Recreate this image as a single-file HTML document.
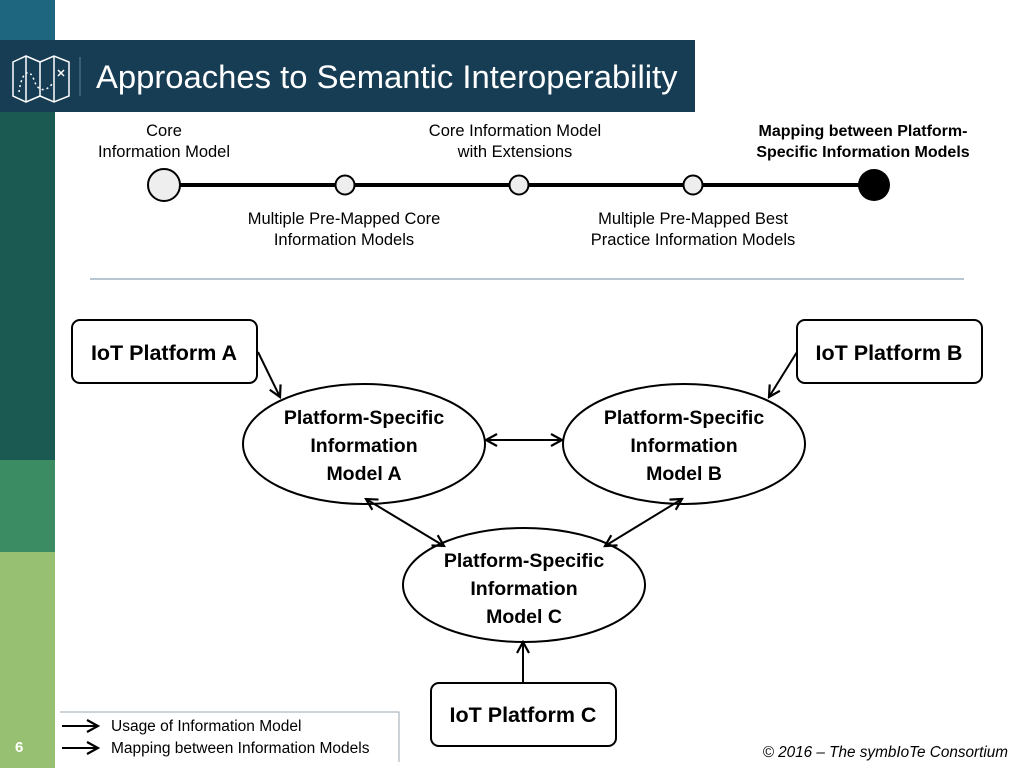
<!DOCTYPE html>
<html><head><style>
body{margin:0;width:1024px;height:768px;overflow:hidden;background:#fff;font-family:"Liberation Sans",sans-serif}
</style></head><body>
<svg width="1024" height="768" xmlns="http://www.w3.org/2000/svg" style="position:absolute;left:0;top:0" font-family="Liberation Sans, sans-serif">
<defs>
<marker id="a" markerWidth="14" markerHeight="14" refX="12" refY="7" orient="auto" markerUnits="userSpaceOnUse"><path d="M1,1 L12,7 L1,13" fill="none" stroke="#000" stroke-width="2.2"/></marker>
<marker id="b" markerWidth="14" markerHeight="14" refX="12" refY="7" orient="auto-start-reverse" markerUnits="userSpaceOnUse"><path d="M1,1 L12,7 L1,13" fill="none" stroke="#000" stroke-width="2.2"/></marker>
</defs>
<rect x="0" y="0" width="55" height="40" fill="#1e6580"/>
<rect x="0" y="112" width="55" height="348" fill="#1b5a52"/>
<rect x="0" y="460" width="55" height="92" fill="#3b8c62"/>
<rect x="0" y="552" width="55" height="216" fill="#97c072"/>
<rect x="0" y="40" width="695" height="72" fill="#173d55"/>
<g fill="none" stroke="#fff" stroke-width="1.5">
<path d="M13,62 L26,56 L40,62 L54,56 L69,62 L69,96 L54,102 L40,96 L26,102 L13,96 Z"/>
<line x1="26" y1="56" x2="26" y2="102"/><line x1="40" y1="62" x2="40" y2="96"/><line x1="54" y1="56" x2="54" y2="102"/>
<path d="M19,92 C22,70 30,68 34,80 C38,92 46,92 52,84" stroke-dasharray="2,3"/>
<path d="M58,70 l6,6 M64,70 l-6,6"/>
</g>
<line x1="80" y1="57" x2="80" y2="96" stroke="#5d7f93" stroke-width="1"/>
<text x="96" y="88" font-size="32.8" fill="#fff">Approaches to Semantic Interoperability</text>
<g font-size="16.5" text-anchor="middle" fill="#000">
<text x="164" y="136">Core</text><text x="164" y="157">Information Model</text>
<text x="515" y="136">Core Information Model</text><text x="515" y="157">with Extensions</text>
<text x="863" y="136" font-weight="bold" font-size="16">Mapping between Platform-</text><text x="863" y="157" font-weight="bold" font-size="16">Specific Information Models</text>
<text x="344" y="224">Multiple Pre-Mapped Core</text><text x="344" y="245">Information Models</text>
<text x="693" y="224">Multiple Pre-Mapped Best</text><text x="693" y="245">Practice Information Models</text>
</g>
<line x1="164" y1="185" x2="874" y2="185" stroke="#000" stroke-width="4"/>
<circle cx="164" cy="185" r="16" fill="#eee" stroke="#000" stroke-width="2"/>
<circle cx="345" cy="185" r="9.5" fill="#eee" stroke="#000" stroke-width="2"/>
<circle cx="519" cy="185" r="9.5" fill="#eee" stroke="#000" stroke-width="2"/>
<circle cx="693" cy="185" r="9.5" fill="#eee" stroke="#000" stroke-width="2"/>
<circle cx="874" cy="185" r="16" fill="#000"/>
<line x1="90" y1="279" x2="964" y2="279" stroke="#9fb3c0" stroke-width="1.5"/>
<g fill="#fff" stroke="#000" stroke-width="2">
<rect x="72" y="320" width="185" height="63" rx="8"/>
<rect x="797" y="320" width="185" height="63" rx="8"/>
<rect x="431" y="683" width="185" height="63" rx="8"/>
<ellipse cx="364" cy="444" rx="121" ry="60"/>
<ellipse cx="684" cy="444" rx="121" ry="60"/>
<ellipse cx="524" cy="585" rx="121" ry="57"/>
</g>
<g font-weight="bold" text-anchor="middle" fill="#000">
<text x="164" y="360" font-size="21.5">IoT Platform A</text>
<text x="889" y="360" font-size="21.5">IoT Platform B</text>
<text x="523" y="722" font-size="21.5">IoT Platform C</text>
<g font-size="19.5"><text x="364" y="424">Platform-Specific</text><text x="364" y="452">Information</text><text x="364" y="480">Model A</text>
<text x="684" y="424">Platform-Specific</text><text x="684" y="452">Information</text><text x="684" y="480">Model B</text>
<text x="524" y="567">Platform-Specific</text><text x="524" y="595">Information</text><text x="524" y="623">Model C</text></g>
</g>
<g stroke="#000" stroke-width="2" fill="none">
<line x1="258" y1="352" x2="280" y2="397" marker-end="url(#a)"/>
<line x1="797" y1="352" x2="769" y2="397" marker-end="url(#a)"/>
<line x1="523" y1="683" x2="523" y2="642" marker-end="url(#a)"/>
<line x1="486" y1="440" x2="562" y2="440" marker-start="url(#b)" marker-end="url(#b)"/>
<line x1="366" y1="499" x2="444" y2="546" marker-start="url(#b)" marker-end="url(#b)"/>
<line x1="682" y1="499" x2="605" y2="546" marker-start="url(#b)" marker-end="url(#b)"/>
<line x1="62" y1="726" x2="98" y2="726" marker-end="url(#a)"/>
<line x1="62" y1="748" x2="98" y2="748" marker-end="url(#a)"/>
</g>
<path d="M60,712 L399,712 L399,762" fill="none" stroke="#9aaab5" stroke-width="1"/>
<g font-size="15.5" fill="#000"><text x="111" y="731">Usage of Information Model</text><text x="111" y="753">Mapping between Information Models</text></g>
<text x="15" y="752" font-size="15" font-weight="bold" fill="#fff">6</text>
<text x="1008" y="757" font-size="15.3" font-style="italic" text-anchor="end" fill="#000">© 2016 – The symbIoTe Consortium</text>
</svg>
</body></html>
